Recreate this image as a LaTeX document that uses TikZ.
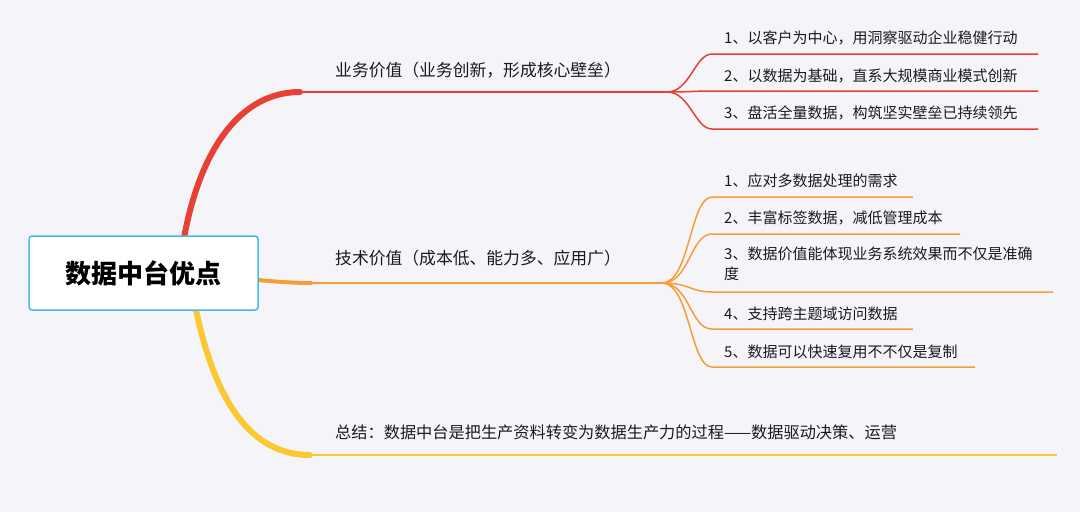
\documentclass[tikz,border=0pt]{standalone}
\usepackage{fontspec}
\setmainfont{Noto Sans CJK SC}
\definecolor{bg}{RGB}{245,245,249}
\definecolor{cred}{RGB}{232,64,52}
\definecolor{corg}{RGB}{245,158,55}
\definecolor{cyel}{RGB}{250,200,50}
\definecolor{cblue}{RGB}{70,185,235}
\definecolor{ctxt}{RGB}{25,25,35}
\begin{document}
\begin{tikzpicture}[x=1pt,y=-1pt,
  red/.style={draw=cred},
  org/.style={draw=corg},
  yel/.style={draw=cyel},
  lbl/.style={anchor=west,font=\fontsize{15}{20}\selectfont,text=ctxt,inner sep=0},
  main/.style={anchor=west,font=\fontsize{16.8}{20}\selectfont,text=ctxt,inner sep=0}]
\fill[bg] (0,0) rectangle (1080,512);
\useasboundingbox (0,0) rectangle (1080,512);
% thick branches
\draw[red,line width=6,line cap=round] (184,238) .. controls (200,150) and (240,92) .. (300,92);
\draw[red,line width=1.5] (300,92) -- (667,92);
\draw[org,line width=4] (258,280) .. controls (280,282) and (295,283) .. (312,283);
\draw[org,line width=1.5] (312,283) -- (667,283);
\draw[yel,line width=6,line cap=round] (196,310) .. controls (215,400) and (250,455) .. (310,455);
\draw[yel,line width=1.5] (310,455) -- (1057,455);
% root
\node[draw=cblue,line width=1.5,fill=white,rounded corners=3,minimum width=229,minimum height=74,font=\fontsize{26}{30}\selectfont\bfseries] (root) at (143.5,273) {数据中台优点};
% main labels
\node[main] (b1) at (335,70) {业务价值（业务创新，形成核心壁垒）};
\node[main] (b2) at (335,258) {技术价值（成本低、能力多、应用广）};
\node[main,font=\fontsize{16.2}{20}\selectfont] (b3) at (335,432) {总结：数据中台是把生产资料转变为数据生产力的过程——数据驱动决策、运营};
% red children
\coordinate (r0) at (667,92);
\foreach \y/\e in {54/1038,91/1038,129/1038}{
  \draw[red,line width=1.5] (r0) .. controls (690,92) and (695,\y) .. (712,\y) -- (\e,\y);}
\node[lbl] (r1) at (724,38) {1、以客户为中心，用洞察驱动企业稳健行动};
\node[lbl] (r2) at (724,76) {2、以数据为基础，直系大规模商业模式创新};
\node[lbl] (r3) at (724,113) {3、盘活全量数据，构筑坚实壁垒已持续领先};
% orange children
\coordinate (o0) at (662,283);
\foreach \y/\e in {197/913,234/960,292/1053,329/913,367/975}{
  \draw[org,line width=1.5] (o0) .. controls (690,283) and (690,\y) .. (712,\y) -- (\e,\y);}
\node[lbl] (o1) at (724,181) {1、应对多数据处理的需求};
\node[lbl] (o2) at (724,218) {2、丰富标签数据，减低管理成本};
\node[lbl,align=left,anchor=north west] (o3) at (724,247) {3、数据价值能体现业务系统效果而不仅是准确\\度};
\node[lbl] (o4) at (724,314) {4、支持跨主题域访问数据};
\node[lbl] (o5) at (724,352) {5、数据可以快速复用不不仅是复制};
\end{tikzpicture}
\end{document}
